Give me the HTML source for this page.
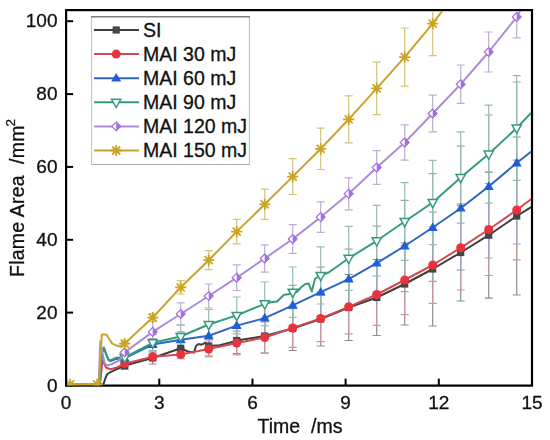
<!DOCTYPE html>
<html><head><meta charset="utf-8"><style>
html,body{margin:0;padding:0;background:#fff;}
svg{display:block;filter:blur(0.4px);}
.t{font-family:"Liberation Sans",sans-serif;font-size:19px;fill:#111;stroke:#111;stroke-width:0.3px;}
.a{font-family:"Liberation Sans",sans-serif;font-size:19.5px;fill:#111;stroke:#111;stroke-width:0.3px;}
.l{font-family:"Liberation Sans",sans-serif;font-size:19.5px;fill:#111;stroke:#111;stroke-width:0.3px;}
</style></head><body>
<svg width="550" height="440" viewBox="0 0 550 440">
<defs><clipPath id="c"><rect x="67" y="11" width="464" height="374.6"/></clipPath></defs>
<rect x="66.1" y="10.1" width="465.9" height="375.5" fill="none" stroke="#000" stroke-width="2.2"/>
<line x1="66.1" y1="385.6" x2="66.1" y2="378.6" stroke="#000" stroke-width="2"/>
<text x="66.1" y="408.7" text-anchor="middle" class="t">0</text>
<line x1="159.3" y1="385.6" x2="159.3" y2="378.6" stroke="#000" stroke-width="2"/>
<text x="159.3" y="408.7" text-anchor="middle" class="t">3</text>
<line x1="252.5" y1="385.6" x2="252.5" y2="378.6" stroke="#000" stroke-width="2"/>
<text x="252.5" y="408.7" text-anchor="middle" class="t">6</text>
<line x1="345.6" y1="385.6" x2="345.6" y2="378.6" stroke="#000" stroke-width="2"/>
<text x="345.6" y="408.7" text-anchor="middle" class="t">9</text>
<line x1="438.8" y1="385.6" x2="438.8" y2="378.6" stroke="#000" stroke-width="2"/>
<text x="438.8" y="408.7" text-anchor="middle" class="t">12</text>
<line x1="532.0" y1="385.6" x2="532.0" y2="378.6" stroke="#000" stroke-width="2"/>
<text x="532.0" y="408.7" text-anchor="middle" class="t">15</text>
<line x1="66.1" y1="385.5" x2="73.1" y2="385.5" stroke="#000" stroke-width="2"/>
<text x="57.5" y="391.7" text-anchor="end" class="t">0</text>
<line x1="66.1" y1="312.6" x2="73.1" y2="312.6" stroke="#000" stroke-width="2"/>
<text x="57.5" y="318.8" text-anchor="end" class="t">20</text>
<line x1="66.1" y1="239.8" x2="73.1" y2="239.8" stroke="#000" stroke-width="2"/>
<text x="57.5" y="246.0" text-anchor="end" class="t">40</text>
<line x1="66.1" y1="166.9" x2="73.1" y2="166.9" stroke="#000" stroke-width="2"/>
<text x="57.5" y="173.1" text-anchor="end" class="t">60</text>
<line x1="66.1" y1="94.1" x2="73.1" y2="94.1" stroke="#000" stroke-width="2"/>
<text x="57.5" y="100.3" text-anchor="end" class="t">80</text>
<line x1="66.1" y1="21.2" x2="73.1" y2="21.2" stroke="#000" stroke-width="2"/>
<text x="57.5" y="27.4" text-anchor="end" class="t">100</text>
<g clip-path="url(#c)" stroke-width="1.2" fill="none">
<path d="M124.7 361.5V369.5M120.7 361.5h8M120.7 369.5h8" stroke="#8c8c8c"/>
<path d="M152.7 352.0V364.0M148.7 352.0h8M148.7 364.0h8" stroke="#8c8c8c"/>
<path d="M180.7 340.3V356.3M176.7 340.3h8M176.7 356.3h8" stroke="#8c8c8c"/>
<path d="M208.7 336.0V356.0M204.7 336.0h8M204.7 356.0h8" stroke="#8c8c8c"/>
<path d="M236.7 327.5V353.5M232.7 327.5h8M232.7 353.5h8" stroke="#8c8c8c"/>
<path d="M264.7 319.0V353.0M260.7 319.0h8M260.7 353.0h8" stroke="#8c8c8c"/>
<path d="M292.7 306.5V350.5M288.7 306.5h8M288.7 350.5h8" stroke="#8c8c8c"/>
<path d="M320.7 292.0V346.0M316.7 292.0h8M316.7 346.0h8" stroke="#8c8c8c"/>
<path d="M348.7 274.5V340.5M344.7 274.5h8M344.7 340.5h8" stroke="#8c8c8c"/>
<path d="M376.7 259.5V335.5M372.7 259.5h8M372.7 335.5h8" stroke="#8c8c8c"/>
<path d="M404.7 243.0V325.0M400.7 243.0h8M400.7 325.0h8" stroke="#8c8c8c"/>
<path d="M432.7 212.0V326.0M428.7 212.0h8M428.7 326.0h8" stroke="#8c8c8c"/>
<path d="M460.7 204.0V301.0M456.7 204.0h8M456.7 301.0h8" stroke="#8c8c8c"/>
<path d="M488.7 172.2V298.2M484.7 172.2h8M484.7 298.2h8" stroke="#8c8c8c"/>
<path d="M516.7 137.0V295.0M512.7 137.0h8M512.7 295.0h8" stroke="#8c8c8c"/>
<path d="M124.7 360.6V366.6M120.7 360.6h8M120.7 366.6h8" stroke="#c89a9c"/>
<path d="M152.7 353.8V359.8M148.7 353.8h8M148.7 359.8h8" stroke="#c89a9c"/>
<path d="M180.7 350.2V358.6M176.7 350.2h8M176.7 358.6h8" stroke="#c89a9c"/>
<path d="M208.7 341.0V357.0M204.7 341.0h8M204.7 357.0h8" stroke="#c89a9c"/>
<path d="M236.7 331.2V354.8M232.7 331.2h8M232.7 354.8h8" stroke="#c89a9c"/>
<path d="M264.7 321.9V353.1M260.7 321.9h8M260.7 353.1h8" stroke="#c89a9c"/>
<path d="M292.7 308.6V347.4M288.7 308.6h8M288.7 347.4h8" stroke="#c89a9c"/>
<path d="M320.7 295.2V341.6M316.7 295.2h8M316.7 341.6h8" stroke="#c89a9c"/>
<path d="M348.7 279.8V333.8M344.7 279.8h8M344.7 333.8h8" stroke="#c89a9c"/>
<path d="M376.7 263.7V325.3M372.7 263.7h8M372.7 325.3h8" stroke="#c89a9c"/>
<path d="M404.7 245.4V314.6M400.7 245.4h8M400.7 314.6h8" stroke="#c89a9c"/>
<path d="M432.7 226.6V303.4M428.7 226.6h8M428.7 303.4h8" stroke="#c89a9c"/>
<path d="M460.7 205.6V290.0M456.7 205.6h8M456.7 290.0h8" stroke="#c89a9c"/>
<path d="M488.7 183.5V275.5M484.7 183.5h8M484.7 275.5h8" stroke="#c89a9c"/>
<path d="M516.7 160.2V259.8M512.7 160.2h8M512.7 259.8h8" stroke="#c89a9c"/>
<path d="M124.7 354.0V362.0M120.7 354.0h8M120.7 362.0h8" stroke="#9aa6bc"/>
<path d="M152.7 338.6V350.6M148.7 338.6h8M148.7 350.6h8" stroke="#9aa6bc"/>
<path d="M180.7 331.8V347.8M176.7 331.8h8M176.7 347.8h8" stroke="#9aa6bc"/>
<path d="M208.7 325.8V345.8M204.7 325.8h8M204.7 345.8h8" stroke="#9aa6bc"/>
<path d="M236.7 312.6V338.6M232.7 312.6h8M232.7 338.6h8" stroke="#9aa6bc"/>
<path d="M264.7 302.1V334.1M260.7 302.1h8M260.7 334.1h8" stroke="#9aa6bc"/>
<path d="M292.7 285.4V325.4M288.7 285.4h8M288.7 325.4h8" stroke="#9aa6bc"/>
<path d="M320.7 267.2V317.2M316.7 267.2h8M316.7 317.2h8" stroke="#9aa6bc"/>
<path d="M348.7 249.1V309.1M344.7 249.1h8M344.7 309.1h8" stroke="#9aa6bc"/>
<path d="M376.7 226.2V300.2M372.7 226.2h8M372.7 300.2h8" stroke="#9aa6bc"/>
<path d="M404.7 200.3V291.7M400.7 200.3h8M400.7 291.7h8" stroke="#9aa6bc"/>
<path d="M432.7 173.7V281.3M428.7 173.7h8M428.7 281.3h8" stroke="#9aa6bc"/>
<path d="M460.7 146.2V270.2M456.7 146.2h8M456.7 270.2h8" stroke="#9aa6bc"/>
<path d="M488.7 115.0V258.0M484.7 115.0h8M484.7 258.0h8" stroke="#9aa6bc"/>
<path d="M516.7 82.0V244.0M512.7 82.0h8M512.7 244.0h8" stroke="#9aa6bc"/>
<path d="M124.7 352.7V362.3M120.7 352.7h8M120.7 362.3h8" stroke="#98bcb0"/>
<path d="M152.7 334.6V351.0M148.7 334.6h8M148.7 351.0h8" stroke="#98bcb0"/>
<path d="M180.7 324.9V348.1M176.7 324.9h8M176.7 348.1h8" stroke="#98bcb0"/>
<path d="M208.7 309.5V339.5M204.7 309.5h8M204.7 339.5h8" stroke="#98bcb0"/>
<path d="M236.7 297.0V333.8M232.7 297.0h8M232.7 333.8h8" stroke="#98bcb0"/>
<path d="M264.7 282.0V325.6M260.7 282.0h8M260.7 325.6h8" stroke="#98bcb0"/>
<path d="M292.7 267.0V317.4M288.7 267.0h8M288.7 317.4h8" stroke="#98bcb0"/>
<path d="M320.7 246.8V304.0M316.7 246.8h8M316.7 304.0h8" stroke="#98bcb0"/>
<path d="M348.7 226.3V290.3M344.7 226.3h8M344.7 290.3h8" stroke="#98bcb0"/>
<path d="M376.7 205.4V276.2M372.7 205.4h8M372.7 276.2h8" stroke="#98bcb0"/>
<path d="M404.7 182.7V260.3M400.7 182.7h8M400.7 260.3h8" stroke="#98bcb0"/>
<path d="M432.7 160.3V244.7M428.7 160.3h8M428.7 244.7h8" stroke="#98bcb0"/>
<path d="M460.7 131.9V223.1M456.7 131.9h8M456.7 223.1h8" stroke="#98bcb0"/>
<path d="M488.7 105.1V203.1M484.7 105.1h8M484.7 203.1h8" stroke="#98bcb0"/>
<path d="M516.7 75.6V180.4M512.7 75.6h8M512.7 180.4h8" stroke="#98bcb0"/>
<path d="M124.7 342.8V362.0M120.7 342.8h8M120.7 362.0h8" stroke="#bcaed0"/>
<path d="M152.7 321.5V342.3M148.7 321.5h8M148.7 342.3h8" stroke="#bcaed0"/>
<path d="M180.7 302.8V325.2M176.7 302.8h8M176.7 325.2h8" stroke="#bcaed0"/>
<path d="M208.7 284.0V308.0M204.7 284.0h8M204.7 308.0h8" stroke="#bcaed0"/>
<path d="M236.7 264.9V290.5M232.7 264.9h8M232.7 290.5h8" stroke="#bcaed0"/>
<path d="M264.7 244.9V272.1M260.7 244.9h8M260.7 272.1h8" stroke="#bcaed0"/>
<path d="M292.7 224.6V253.4M288.7 224.6h8M288.7 253.4h8" stroke="#bcaed0"/>
<path d="M320.7 201.9V232.3M316.7 201.9h8M316.7 232.3h8" stroke="#bcaed0"/>
<path d="M348.7 177.8V209.8M344.7 177.8h8M344.7 209.8h8" stroke="#bcaed0"/>
<path d="M376.7 150.7V184.3M372.7 150.7h8M372.7 184.3h8" stroke="#bcaed0"/>
<path d="M404.7 124.9V160.1M400.7 124.9h8M400.7 160.1h8" stroke="#bcaed0"/>
<path d="M432.7 95.1V131.9M428.7 95.1h8M428.7 131.9h8" stroke="#bcaed0"/>
<path d="M460.7 65.0V103.4M456.7 65.0h8M456.7 103.4h8" stroke="#bcaed0"/>
<path d="M488.7 32.0V72.0M484.7 32.0h8M484.7 72.0h8" stroke="#bcaed0"/>
<path d="M516.7 -3.8V37.8M512.7 -3.8h8M512.7 37.8h8" stroke="#bcaed0"/>
<path d="M124.7 340.6V346.6M120.7 340.6h8M120.7 346.6h8" stroke="#d4c47c"/>
<path d="M152.7 313.7V321.5M148.7 313.7h8M148.7 321.5h8" stroke="#d4c47c"/>
<path d="M180.7 280.6V294.0M176.7 280.6h8M176.7 294.0h8" stroke="#d4c47c"/>
<path d="M208.7 250.7V269.7M204.7 250.7h8M204.7 269.7h8" stroke="#d4c47c"/>
<path d="M236.7 219.3V243.9M232.7 219.3h8M232.7 243.9h8" stroke="#d4c47c"/>
<path d="M264.7 189.2V219.4M260.7 189.2h8M260.7 219.4h8" stroke="#d4c47c"/>
<path d="M292.7 158.7V194.5M288.7 158.7h8M288.7 194.5h8" stroke="#d4c47c"/>
<path d="M320.7 128.1V169.5M316.7 128.1h8M316.7 169.5h8" stroke="#d4c47c"/>
<path d="M348.7 95.8V142.8M344.7 95.8h8M344.7 142.8h8" stroke="#d4c47c"/>
<path d="M376.7 62.1V114.7M372.7 62.1h8M372.7 114.7h8" stroke="#d4c47c"/>
<path d="M404.7 28.0V86.2M400.7 28.0h8M400.7 86.2h8" stroke="#d4c47c"/>
<path d="M432.7 -8.2V55.6M428.7 -8.2h8M428.7 55.6h8" stroke="#d4c47c"/>
</g>
<g clip-path="url(#c)">
<path d="M66.1 384.6 L103.3 384.6 L105.5 378.0 L107.0 374.5 L110.0 372.3 L113.6 370.7 L120.5 367.5 L124.7 365.5 L152.7 358.0 L180.7 348.3 L188.0 351.5 L194.0 352.4 L196.0 346.0 L198.5 344.0 L201.7 344.7 L205.0 342.8 L206.8 344.0 L208.7 346.0 L219.5 345.2 L229.7 342.8 L236.7 340.5 L264.7 336.0 L292.7 328.5 L320.7 319.0 L348.7 307.5 L376.7 297.5 L404.7 284.0 L432.7 269.0 L460.7 252.5 L488.7 235.2 L516.7 216.0 L532.0 206.6" fill="none" stroke="#3e3e3e" stroke-width="2" stroke-linejoin="round"/>
<rect x="121.1" y="361.9" width="7.2" height="7.2" fill="#454545"/>
<rect x="149.1" y="354.4" width="7.2" height="7.2" fill="#454545"/>
<rect x="177.1" y="344.7" width="7.2" height="7.2" fill="#454545"/>
<rect x="205.1" y="342.4" width="7.2" height="7.2" fill="#454545"/>
<rect x="233.1" y="336.9" width="7.2" height="7.2" fill="#454545"/>
<rect x="261.1" y="332.4" width="7.2" height="7.2" fill="#454545"/>
<rect x="289.1" y="324.9" width="7.2" height="7.2" fill="#454545"/>
<rect x="317.1" y="315.4" width="7.2" height="7.2" fill="#454545"/>
<rect x="345.1" y="303.9" width="7.2" height="7.2" fill="#454545"/>
<rect x="373.1" y="293.9" width="7.2" height="7.2" fill="#454545"/>
<rect x="401.1" y="280.4" width="7.2" height="7.2" fill="#454545"/>
<rect x="429.1" y="265.4" width="7.2" height="7.2" fill="#454545"/>
<rect x="457.1" y="248.9" width="7.2" height="7.2" fill="#454545"/>
<rect x="485.1" y="231.6" width="7.2" height="7.2" fill="#454545"/>
<rect x="513.1" y="212.4" width="7.2" height="7.2" fill="#454545"/>
<path d="M66.1 384.3 L100.0 384.3 L102.5 360.4 L106.2 367.8 L110.6 369.2 L115.8 367.8 L120.0 366.0 L124.7 363.6 L152.7 356.8 L180.7 354.4 L208.7 349.0 L236.7 343.0 L264.7 337.5 L292.7 328.0 L320.7 318.4 L348.7 306.8 L376.7 294.5 L404.7 280.0 L432.7 265.0 L460.7 247.8 L488.7 229.5 L516.7 210.0 L532.0 198.6" fill="none" stroke="#d44850" stroke-width="2" stroke-linejoin="round"/>
<circle cx="124.7" cy="363.6" r="4.5" fill="#e8323c"/>
<circle cx="152.7" cy="356.8" r="4.5" fill="#e8323c"/>
<circle cx="180.7" cy="354.4" r="4.5" fill="#e8323c"/>
<circle cx="208.7" cy="349.0" r="4.5" fill="#e8323c"/>
<circle cx="236.7" cy="343.0" r="4.5" fill="#e8323c"/>
<circle cx="264.7" cy="337.5" r="4.5" fill="#e8323c"/>
<circle cx="292.7" cy="328.0" r="4.5" fill="#e8323c"/>
<circle cx="320.7" cy="318.4" r="4.5" fill="#e8323c"/>
<circle cx="348.7" cy="306.8" r="4.5" fill="#e8323c"/>
<circle cx="376.7" cy="294.5" r="4.5" fill="#e8323c"/>
<circle cx="404.7" cy="280.0" r="4.5" fill="#e8323c"/>
<circle cx="432.7" cy="265.0" r="4.5" fill="#e8323c"/>
<circle cx="460.7" cy="247.8" r="4.5" fill="#e8323c"/>
<circle cx="488.7" cy="229.5" r="4.5" fill="#e8323c"/>
<circle cx="516.7" cy="210.0" r="4.5" fill="#e8323c"/>
<path d="M66.1 384.3 L99.5 384.3 L102.2 352.0 L104.2 348.5 L106.8 356.0 L108.6 360.0 L110.6 361.0 L115.8 359.0 L120.0 358.5 L124.7 358.0 L152.7 344.6 L180.7 339.8 L208.7 335.8 L236.7 325.6 L264.7 318.1 L292.7 305.4 L320.7 292.2 L348.7 279.1 L376.7 263.2 L404.7 246.0 L432.7 227.5 L460.7 208.2 L488.7 186.5 L516.7 163.0 L532.0 150.9" fill="none" stroke="#2e66c2" stroke-width="2" stroke-linejoin="round"/>
<path d="M124.7 352.7L129.7 361.4H119.7Z" fill="#1c5fd8"/>
<path d="M152.7 339.3L157.7 348.0H147.7Z" fill="#1c5fd8"/>
<path d="M180.7 334.5L185.7 343.2H175.7Z" fill="#1c5fd8"/>
<path d="M208.7 330.5L213.7 339.2H203.7Z" fill="#1c5fd8"/>
<path d="M236.7 320.3L241.7 329.0H231.7Z" fill="#1c5fd8"/>
<path d="M264.7 312.8L269.7 321.5H259.7Z" fill="#1c5fd8"/>
<path d="M292.7 300.1L297.7 308.8H287.7Z" fill="#1c5fd8"/>
<path d="M320.7 286.9L325.7 295.6H315.7Z" fill="#1c5fd8"/>
<path d="M348.7 273.8L353.7 282.5H343.7Z" fill="#1c5fd8"/>
<path d="M376.7 257.9L381.7 266.6H371.7Z" fill="#1c5fd8"/>
<path d="M404.7 240.7L409.7 249.4H399.7Z" fill="#1c5fd8"/>
<path d="M432.7 222.2L437.7 230.9H427.7Z" fill="#1c5fd8"/>
<path d="M460.7 202.9L465.7 211.6H455.7Z" fill="#1c5fd8"/>
<path d="M488.7 181.2L493.7 189.9H483.7Z" fill="#1c5fd8"/>
<path d="M516.7 157.7L521.7 166.4H511.7Z" fill="#1c5fd8"/>
<path d="M66.1 384.3 L99.5 384.3 L102.0 352.0 L103.8 347.5 L106.5 355.0 L108.4 359.7 L110.2 360.4 L115.8 357.8 L120.0 357.5 L124.7 357.5 L152.7 342.8 L180.7 336.5 L208.7 324.5 L236.7 315.4 L264.7 303.8 L271.0 302.3 L277.0 301.5 L284.0 294.8 L288.4 294.3 L292.7 292.2 L296.8 292.0 L301.4 287.0 L305.0 284.3 L308.6 283.4 L311.8 291.5 L315.0 278.8 L317.7 277.0 L320.7 275.4 L328.6 272.5 L348.7 258.3 L376.7 240.8 L404.7 221.5 L432.7 202.5 L460.7 177.5 L488.7 154.1 L516.7 128.0 L532.0 112.1" fill="none" stroke="#349c78" stroke-width="2" stroke-linejoin="round"/>
<path d="M120.1 354.5H129.3L124.7 362.7Z" fill="#fff" stroke="#349c78" stroke-width="1.5"/>
<path d="M148.1 339.8H157.3L152.7 348.0Z" fill="#fff" stroke="#349c78" stroke-width="1.5"/>
<path d="M176.1 333.5H185.3L180.7 341.7Z" fill="#fff" stroke="#349c78" stroke-width="1.5"/>
<path d="M204.1 321.5H213.3L208.7 329.7Z" fill="#fff" stroke="#349c78" stroke-width="1.5"/>
<path d="M232.1 312.4H241.3L236.7 320.6Z" fill="#fff" stroke="#349c78" stroke-width="1.5"/>
<path d="M260.1 300.8H269.3L264.7 309.0Z" fill="#fff" stroke="#349c78" stroke-width="1.5"/>
<path d="M288.1 289.2H297.3L292.7 297.4Z" fill="#fff" stroke="#349c78" stroke-width="1.5"/>
<path d="M316.1 272.4H325.3L320.7 280.6Z" fill="#fff" stroke="#349c78" stroke-width="1.5"/>
<path d="M344.1 255.3H353.3L348.7 263.5Z" fill="#fff" stroke="#349c78" stroke-width="1.5"/>
<path d="M372.1 237.8H381.3L376.7 246.0Z" fill="#fff" stroke="#349c78" stroke-width="1.5"/>
<path d="M400.1 218.5H409.3L404.7 226.7Z" fill="#fff" stroke="#349c78" stroke-width="1.5"/>
<path d="M428.1 199.5H437.3L432.7 207.7Z" fill="#fff" stroke="#349c78" stroke-width="1.5"/>
<path d="M456.1 174.5H465.3L460.7 182.7Z" fill="#fff" stroke="#349c78" stroke-width="1.5"/>
<path d="M484.1 151.1H493.3L488.7 159.3Z" fill="#fff" stroke="#349c78" stroke-width="1.5"/>
<path d="M512.1 125.0H521.3L516.7 133.2Z" fill="#fff" stroke="#349c78" stroke-width="1.5"/>
<path d="M66.1 384.3 L98.6 384.3 L100.3 341.2 L102.5 353.0 L104.7 363.3 L107.0 365.6 L112.0 364.0 L119.5 360.4 L124.7 352.4 L152.7 331.9 L180.7 314.0 L208.7 296.0 L236.7 277.7 L264.7 258.5 L292.7 239.0 L320.7 217.1 L348.7 193.8 L376.7 167.5 L404.7 142.5 L432.7 113.5 L460.7 84.2 L488.7 52.0 L516.7 17.0 L521.3 9.0" fill="none" stroke="#aa8cd8" stroke-width="2" stroke-linejoin="round"/>
<path d="M124.7 347.6L129.5 352.4L124.7 357.2L119.9 352.4Z" fill="#a46ee0" stroke="#a46ee0" stroke-width="1"/><path d="M121.1 352.4L124.7 348.8V356.0Z" fill="#fff"/>
<path d="M152.7 327.1L157.5 331.9L152.7 336.7L147.9 331.9Z" fill="#a46ee0" stroke="#a46ee0" stroke-width="1"/><path d="M149.1 331.9L152.7 328.3V335.5Z" fill="#fff"/>
<path d="M180.7 309.2L185.5 314.0L180.7 318.8L175.9 314.0Z" fill="#a46ee0" stroke="#a46ee0" stroke-width="1"/><path d="M177.1 314.0L180.7 310.4V317.6Z" fill="#fff"/>
<path d="M208.7 291.2L213.5 296.0L208.7 300.8L203.9 296.0Z" fill="#a46ee0" stroke="#a46ee0" stroke-width="1"/><path d="M205.1 296.0L208.7 292.4V299.6Z" fill="#fff"/>
<path d="M236.7 272.9L241.5 277.7L236.7 282.5L231.9 277.7Z" fill="#a46ee0" stroke="#a46ee0" stroke-width="1"/><path d="M233.1 277.7L236.7 274.1V281.3Z" fill="#fff"/>
<path d="M264.7 253.7L269.5 258.5L264.7 263.3L259.9 258.5Z" fill="#a46ee0" stroke="#a46ee0" stroke-width="1"/><path d="M261.1 258.5L264.7 254.9V262.1Z" fill="#fff"/>
<path d="M292.7 234.2L297.5 239.0L292.7 243.8L287.9 239.0Z" fill="#a46ee0" stroke="#a46ee0" stroke-width="1"/><path d="M289.1 239.0L292.7 235.4V242.6Z" fill="#fff"/>
<path d="M320.7 212.3L325.5 217.1L320.7 221.9L315.9 217.1Z" fill="#a46ee0" stroke="#a46ee0" stroke-width="1"/><path d="M317.1 217.1L320.7 213.5V220.7Z" fill="#fff"/>
<path d="M348.7 189.0L353.5 193.8L348.7 198.6L343.9 193.8Z" fill="#a46ee0" stroke="#a46ee0" stroke-width="1"/><path d="M345.1 193.8L348.7 190.2V197.4Z" fill="#fff"/>
<path d="M376.7 162.7L381.5 167.5L376.7 172.3L371.9 167.5Z" fill="#a46ee0" stroke="#a46ee0" stroke-width="1"/><path d="M373.1 167.5L376.7 163.9V171.1Z" fill="#fff"/>
<path d="M404.7 137.7L409.5 142.5L404.7 147.3L399.9 142.5Z" fill="#a46ee0" stroke="#a46ee0" stroke-width="1"/><path d="M401.1 142.5L404.7 138.9V146.1Z" fill="#fff"/>
<path d="M432.7 108.7L437.5 113.5L432.7 118.3L427.9 113.5Z" fill="#a46ee0" stroke="#a46ee0" stroke-width="1"/><path d="M429.1 113.5L432.7 109.9V117.1Z" fill="#fff"/>
<path d="M460.7 79.4L465.5 84.2L460.7 89.0L455.9 84.2Z" fill="#a46ee0" stroke="#a46ee0" stroke-width="1"/><path d="M457.1 84.2L460.7 80.6V87.8Z" fill="#fff"/>
<path d="M488.7 47.2L493.5 52.0L488.7 56.8L483.9 52.0Z" fill="#a46ee0" stroke="#a46ee0" stroke-width="1"/><path d="M485.1 52.0L488.7 48.4V55.6Z" fill="#fff"/>
<path d="M516.7 12.2L521.5 17.0L516.7 21.8L511.9 17.0Z" fill="#a46ee0" stroke="#a46ee0" stroke-width="1"/><path d="M513.1 17.0L516.7 13.4V20.6Z" fill="#fff"/>
<path d="M66.1 384.3 L98.8 384.3 L101.8 334.6 L106.5 334.6 L109.2 339.0 L112.1 343.4 L116.5 345.6 L120.2 346.4 L124.7 343.6 L152.7 317.6 L180.7 287.3 L208.7 260.2 L236.7 231.6 L264.7 204.3 L292.7 176.6 L320.7 148.8 L348.7 119.3 L376.7 88.4 L404.7 57.1 L432.7 23.7 L443.7 9.0" fill="none" stroke="#c4a62c" stroke-width="2" stroke-linejoin="round"/>
<path d="M70.2 378.7L70.2 389.9M66.2 380.3L74.2 388.3M74.2 380.3L66.2 388.3M64.6 384.3H75.8" stroke="#cca424" stroke-width="1.8" fill="none"/>
<path d="M97.2 378.7L97.2 389.9M93.2 380.3L101.2 388.3M101.2 380.3L93.2 388.3M91.6 384.3H102.8" stroke="#cca424" stroke-width="1.8" fill="none"/>
<path d="M124.7 338.0L124.7 349.2M120.7 339.6L128.7 347.6M128.7 339.6L120.7 347.6M119.1 343.6H130.3" stroke="#cca424" stroke-width="1.8" fill="none"/>
<path d="M152.7 312.0L152.7 323.2M148.7 313.6L156.7 321.6M156.7 313.6L148.7 321.6M147.1 317.6H158.3" stroke="#cca424" stroke-width="1.8" fill="none"/>
<path d="M180.7 281.7L180.7 292.9M176.7 283.3L184.7 291.3M184.7 283.3L176.7 291.3M175.1 287.3H186.3" stroke="#cca424" stroke-width="1.8" fill="none"/>
<path d="M208.7 254.6L208.7 265.8M204.7 256.2L212.7 264.2M212.7 256.2L204.7 264.2M203.1 260.2H214.3" stroke="#cca424" stroke-width="1.8" fill="none"/>
<path d="M236.7 226.0L236.7 237.2M232.7 227.6L240.7 235.6M240.7 227.6L232.7 235.6M231.1 231.6H242.3" stroke="#cca424" stroke-width="1.8" fill="none"/>
<path d="M264.7 198.7L264.7 209.9M260.7 200.3L268.7 208.3M268.7 200.3L260.7 208.3M259.1 204.3H270.3" stroke="#cca424" stroke-width="1.8" fill="none"/>
<path d="M292.7 171.0L292.7 182.2M288.7 172.6L296.7 180.6M296.7 172.6L288.7 180.6M287.1 176.6H298.3" stroke="#cca424" stroke-width="1.8" fill="none"/>
<path d="M320.7 143.2L320.7 154.4M316.7 144.8L324.7 152.8M324.7 144.8L316.7 152.8M315.1 148.8H326.3" stroke="#cca424" stroke-width="1.8" fill="none"/>
<path d="M348.7 113.7L348.7 124.9M344.7 115.3L352.7 123.3M352.7 115.3L344.7 123.3M343.1 119.3H354.3" stroke="#cca424" stroke-width="1.8" fill="none"/>
<path d="M376.7 82.8L376.7 94.0M372.7 84.4L380.7 92.4M380.7 84.4L372.7 92.4M371.1 88.4H382.3" stroke="#cca424" stroke-width="1.8" fill="none"/>
<path d="M404.7 51.5L404.7 62.7M400.7 53.1L408.7 61.1M408.7 53.1L400.7 61.1M399.1 57.1H410.3" stroke="#cca424" stroke-width="1.8" fill="none"/>
<path d="M432.7 18.1L432.7 29.3M428.7 19.7L436.7 27.7M436.7 19.7L428.7 27.7M427.1 23.7H438.3" stroke="#cca424" stroke-width="1.8" fill="none"/>
</g>
<text x="300" y="432.6" text-anchor="middle" class="a">Time&#160;&#160;/ms</text>
<text transform="translate(24.1,197.8) rotate(-90)" text-anchor="middle" class="a" letter-spacing="0.2">Flame Area&#160;&#160;/mm<tspan dx="-1" dy="-9" font-size="13.5">2</tspan></text>
<rect x="91.5" y="16.7" width="158" height="147.3" fill="#fff"/>
<path d="M91.5 16.7V164.5M249.4 16.7V164.5" stroke="#c4c4c4" stroke-width="1.1"/>
<path d="M91 16.7H250" stroke="#808080" stroke-width="1.4"/>
<path d="M91 164.5H250" stroke="#acacac" stroke-width="1.1"/>
<line x1="94" y1="30.0" x2="139" y2="30.0" stroke="#3e3e3e" stroke-width="2"/>
<rect x="112.6" y="26.4" width="7.2" height="7.2" fill="#454545"/>
<text x="143" y="36.8" class="l">SI</text>
<line x1="94" y1="54.1" x2="139" y2="54.1" stroke="#d44850" stroke-width="2"/>
<circle cx="116.2" cy="54.1" r="4.5" fill="#e8323c"/>
<text x="143" y="60.9" class="l">MAI 30 mJ</text>
<line x1="94" y1="78.2" x2="139" y2="78.2" stroke="#2e66c2" stroke-width="2"/>
<path d="M116.2 72.9L121.2 81.6H111.2Z" fill="#1c5fd8"/>
<text x="143" y="85.0" class="l">MAI 60 mJ</text>
<line x1="94" y1="102.3" x2="139" y2="102.3" stroke="#349c78" stroke-width="2"/>
<path d="M111.6 99.3H120.8L116.2 107.5Z" fill="#fff" stroke="#349c78" stroke-width="1.5"/>
<text x="143" y="109.1" class="l">MAI 90 mJ</text>
<line x1="94" y1="126.4" x2="139" y2="126.4" stroke="#aa8cd8" stroke-width="2"/>
<path d="M116.2 121.6L121.0 126.4L116.2 131.2L111.4 126.4Z" fill="#a46ee0" stroke="#a46ee0" stroke-width="1"/><path d="M112.6 126.4L116.2 122.8V130.0Z" fill="#fff"/>
<text x="143" y="133.2" class="l">MAI 120 mJ</text>
<line x1="94" y1="150.5" x2="139" y2="150.5" stroke="#c4a62c" stroke-width="2"/>
<path d="M116.2 144.9L116.2 156.1M112.2 146.5L120.2 154.5M120.2 146.5L112.2 154.5M110.6 150.5H121.8" stroke="#cca424" stroke-width="1.8" fill="none"/>
<text x="143" y="157.3" class="l">MAI 150 mJ</text>
</svg>
</body></html>
